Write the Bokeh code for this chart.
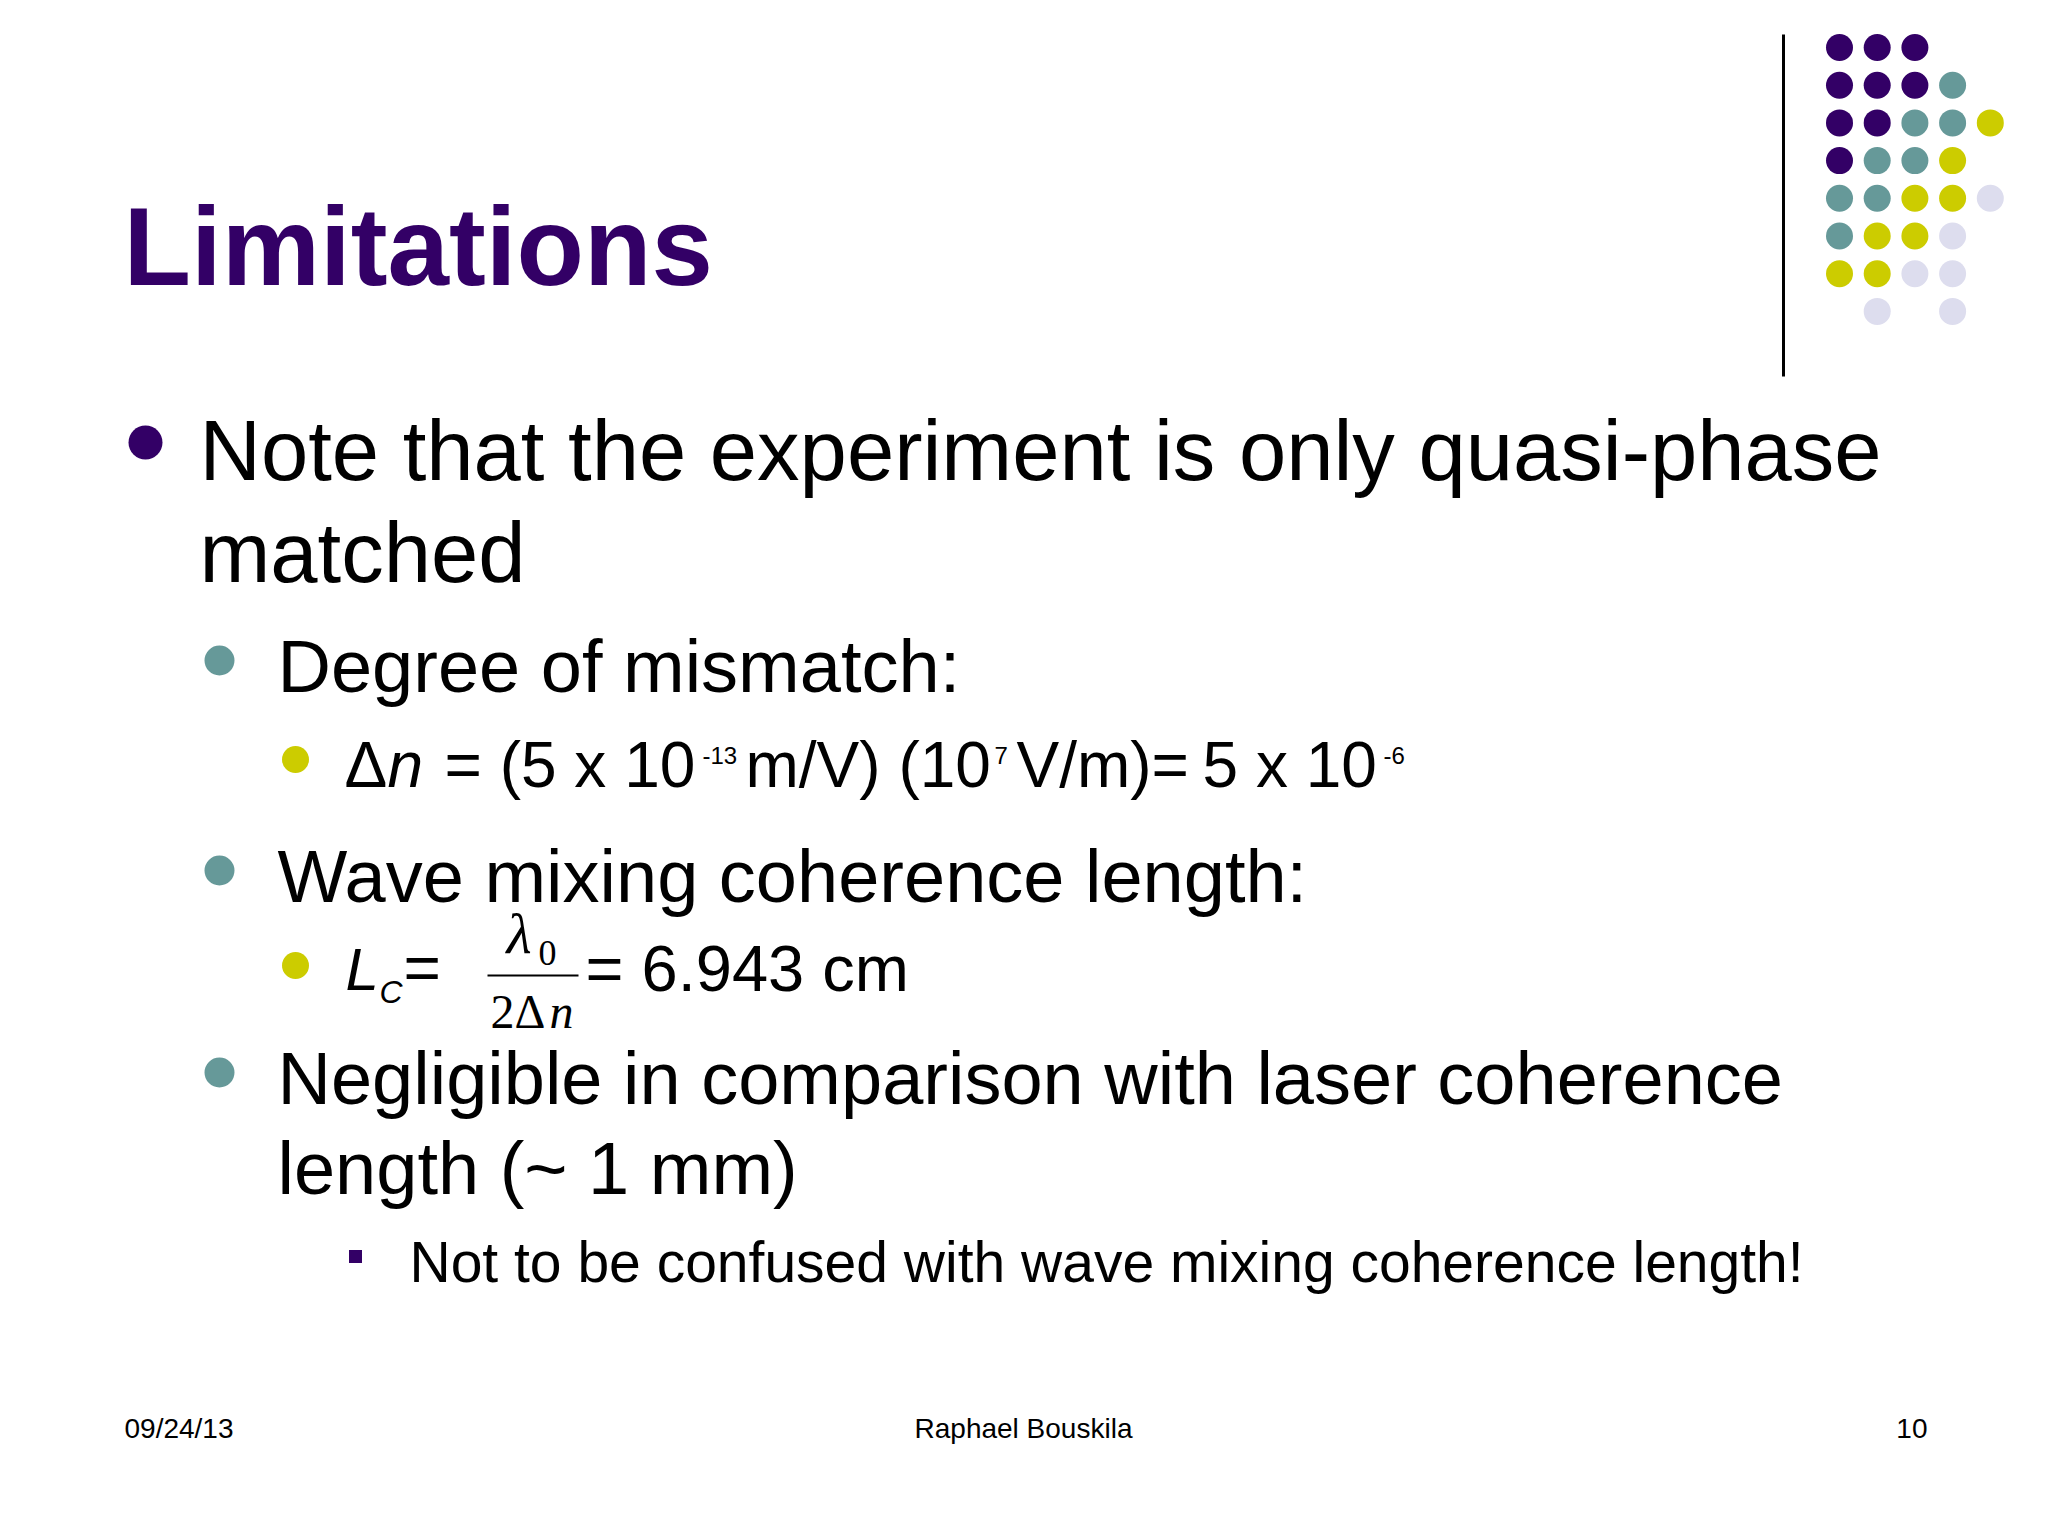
from bokeh.plotting import figure
from bokeh.models import Range1d
from bokeh.embed import file_html
from bokeh.resources import INLINE
from bokeh.core.properties import value

# ---------------- slide content ----------------
title_text = "Limitations"
level1_text = ["Note that the experiment is only quasi-phase", "matched"]
level2_text = ["Degree of mismatch:", "Wave mixing coherence length:",
               "Negligible in comparison with laser coherence", "length (~ 1 mm)"]
level4_text = ["Not to be confused with wave mixing coherence length!"]
footer_left, footer_mid, footer_right = "09/24/13", "Raphael Bouskila", "10"

# decorative dot grid (P purple, T teal, Y yellow, L lavender)
dot_rows = ["PPP..", "PPPT.", "PPTTY", "PTTY.", "TTYYL", "TYYL.", "YYLL.", ".L.L."]
dot_colors = {"P": "#330066", "T": "#669999", "Y": "#CCCC00", "L": "#DDDDEE"}

PURPLE = "#330066"
SANS = "Liberation Sans"
SERIF = "Liberation Serif"
BASE_SHIFT = 0.36   # renderer places text lower than the alphabetic baseline by ~this many em

W, H = 2032, 1520
p = figure(width=W, height=H, output_backend="svg", toolbar_location=None,
           x_range=Range1d(0, W), y_range=Range1d(H, 0),
           min_border=0)
p.axis.visible = False
p.grid.visible = False
p.outline_line_color = None
p.background_fill_color = "white"
p.border_fill_color = "white"


def txt(x, y, s, size, color="black", font=SANS, style="normal", align="left"):
    p.text(x=[x], y=[y - BASE_SHIFT * size], text=[s], text_font=value(font),
           text_font_size=f"{size}px", text_font_style=style, text_color=color,
           text_align=align, text_baseline="alphabetic")


# ---------------- dot grid + vertical rule ----------------
gx0, gy0, gstep = 1839, 47, 37.7
xs, ys, cs = [], [], []
for r, row in enumerate(dot_rows):
    for c, ch in enumerate(row):
        if ch in dot_colors:
            xs.append(gx0 + c * gstep)
            ys.append(gy0 + r * gstep)
            cs.append(dot_colors[ch])
p.scatter(x=xs, y=ys, marker="circle", size=27, fill_color=cs, line_color=None)
p.segment(x0=[1783], y0=[34], x1=[1783], y1=[376], line_color="black", line_width=3)

# ---------------- title ----------------
txt(123, 286, title_text, 110.5, color=PURPLE, style="bold")

# ---------------- level 1 ----------------
p.scatter(x=[145], y=[442], marker="circle", size=34, fill_color=PURPLE, line_color=None)
txt(199, 481, level1_text[0], 85)
txt(199, 583, level1_text[1], 85)

# ---------------- level 2 ----------------
l2_base = [693, 903, 1105, 1195]
l2_bullet = [True, True, True, False]
bx = [219 for b in l2_bullet if b]
by = [y - 33 for y, b in zip(l2_base, l2_bullet) if b]
p.scatter(x=bx, y=by, marker="circle", size=30, fill_color="#669999", line_color=None)
for s, y in zip(level2_text, l2_base):
    txt(277, y, s, 74)

# ---------------- level 3 ----------------
p.scatter(x=[295, 295], y=[759, 965], marker="circle", size=27,
          fill_color="#CCCC00", line_color=None)
# delta n line
yb = 788
txt(344, yb, "\u0394", 64)
txt(387, yb, "n", 64, style="italic")
txt(444, yb, "= (5 x 10", 64)
txt(702, yb - 24, "-13", 24)
txt(745, yb, "m/V) (10", 64)
txt(994, yb - 24, "7", 24)
txt(1016, yb, "V/m)=", 64)
txt(1202, yb, "5 x 10", 64)
txt(1383, yb - 24, "-6", 24)

# L_c line
yc = 991
txt(345, yc, "L", 60, style="italic")
txt(379, 1003, "C", 32, style="italic")
txt(403, yc, "=", 64)
txt(506, 954, "\u03bb", 58, font=SERIF, style="italic")
txt(538, 965, "0", 36, font=SERIF)
p.segment(x0=[487], y0=[975], x1=[578], y1=[975], line_color="black", line_width=2)
txt(490, 1028, "2\u0394", 48, font=SERIF)
txt(549, 1028, "n", 48, font=SERIF, style="italic")
txt(585, yc, "= 6.943 cm", 65)

# ---------------- level 4 ----------------
p.scatter(x=[355], y=[1256], marker="square", size=13, fill_color=PURPLE, line_color=None)
txt(409, 1282, level4_text[0], 57)

# ---------------- footer ----------------
txt(124, 1438, footer_left, 28)
txt(1023, 1438, footer_mid, 28, align="center")
txt(1927, 1438, footer_right, 28, align="right")

open("out.html", "w").write(file_html(p, INLINE))
